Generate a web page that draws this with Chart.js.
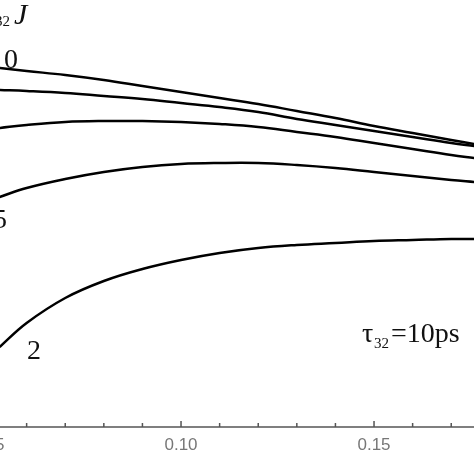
<!DOCTYPE html>
<html>
<head>
<meta charset="utf-8">
<script src="https://cdn.jsdelivr.net/npm/chart.js@4"></script>
<style>
  html, body { margin: 0; padding: 0; background: #fff; }
  #wrap { width: 474px; height: 474px; }
</style>
</head>
<body>
<div id="wrap"><canvas id="jChart"></canvas></div>
<script>
// x values (pump parameter) and curve values (arbitrary units)
const xValues = [0.053, 0.06, 0.07, 0.08, 0.09, 0.10, 0.11, 0.12, 0.13, 0.14, 0.15, 0.16, 0.17, 0.176];
const curve10 = [359, 356, 352, 347, 341, 335, 329, 323, 316, 309, 301, 294, 287, 283];
const curve8  = [337, 336, 334, 331, 328, 324, 320, 315, 308, 302, 296, 290, 284, 281];
const curve6  = [299, 302, 305, 306, 306, 305, 303, 300, 295, 290, 284, 278, 272, 269];
const curve5  = [230, 239, 248, 255, 260, 263, 264, 264, 262, 259, 255, 251, 247, 245];
const curve2  = [80, 104, 129, 146, 158, 167, 174, 179, 182, 184, 186, 187, 188, 188];
const majorTicks = [0.05, 0.10, 0.15];
const minorTicks = [0.06, 0.07, 0.08, 0.09, 0.11, 0.12, 0.13, 0.14, 0.16, 0.17];

const ctx = document.getElementById('jChart').getContext('2d');

function series(ys) {
    return xValues.map((x, i) => ({ x: x, y: ys[i] }));
}

// axis line, inward ticks and the annotations
const decorations = {
    id: 'decorations',
    afterDraw(chart) {
        const c = chart.ctx;
        const xs = chart.scales.x;
        const base = chart.chartArea.bottom;
        c.save();
        c.strokeStyle = '#555';
        c.lineWidth = 1.5;
        c.beginPath();
        c.moveTo(0, base);
        c.lineTo(474, base);
        majorTicks.concat(minorTicks).forEach(t => {
            const px = xs.getPixelForValue(t);
            const len = majorTicks.includes(t) ? 6 : 4;
            c.moveTo(px, base);
            c.lineTo(px, base - len);
        });
        c.stroke();

        c.fillStyle = '#777';
        c.font = '17px "Liberation Sans", Arial, sans-serif';
        c.textAlign = 'center';
        c.textBaseline = 'top';
        majorTicks.forEach(t => {
            c.fillText(t.toFixed(2), xs.getPixelForValue(t), base + 10);
        });

        c.fillStyle = '#111';
        c.textAlign = 'left';
        c.textBaseline = 'alphabetic';
        c.font = '28px "Liberation Serif", "Times New Roman", serif';
        c.fillText('10', -10, 68);
        c.fillText('5', -7, 228);
        c.fillText('2', 27, 359);
        c.fillText('\u03c4', 362, 342);
        c.fillText('=10ps', 391, 342);
        c.font = '15px "Liberation Serif", serif';
        c.fillText('32', 374, 348);
        c.fillText('32', -5, 26);
        c.font = 'italic 30px "Liberation Serif", serif';
        c.fillText('J', 14, 24);
        c.restore();
    }
};

new Chart(ctx, {
    type: 'scatter',
    data: {
        datasets: [curve10, curve8, curve6, curve5, curve2].map(ys => ({
            data: series(ys),
            showLine: true,
            borderColor: '#000',
            borderWidth: 2.5,
            pointRadius: 0,
            tension: 0.4,
            fill: false
        }))
    },
    options: {
        responsive: true,
        maintainAspectRatio: false,
        animation: false,
        layout: { padding: { left: 0, right: 0, top: 0, bottom: 47 } },
        plugins: { legend: { display: false }, tooltip: { enabled: false } },
        scales: {
            x: { type: 'linear', display: false, min: 0.0531, max: 0.1759 },
            y: { display: false, min: 0, max: 427 }
        }
    },
    plugins: [decorations]
});
</script>
</body>
</html>
